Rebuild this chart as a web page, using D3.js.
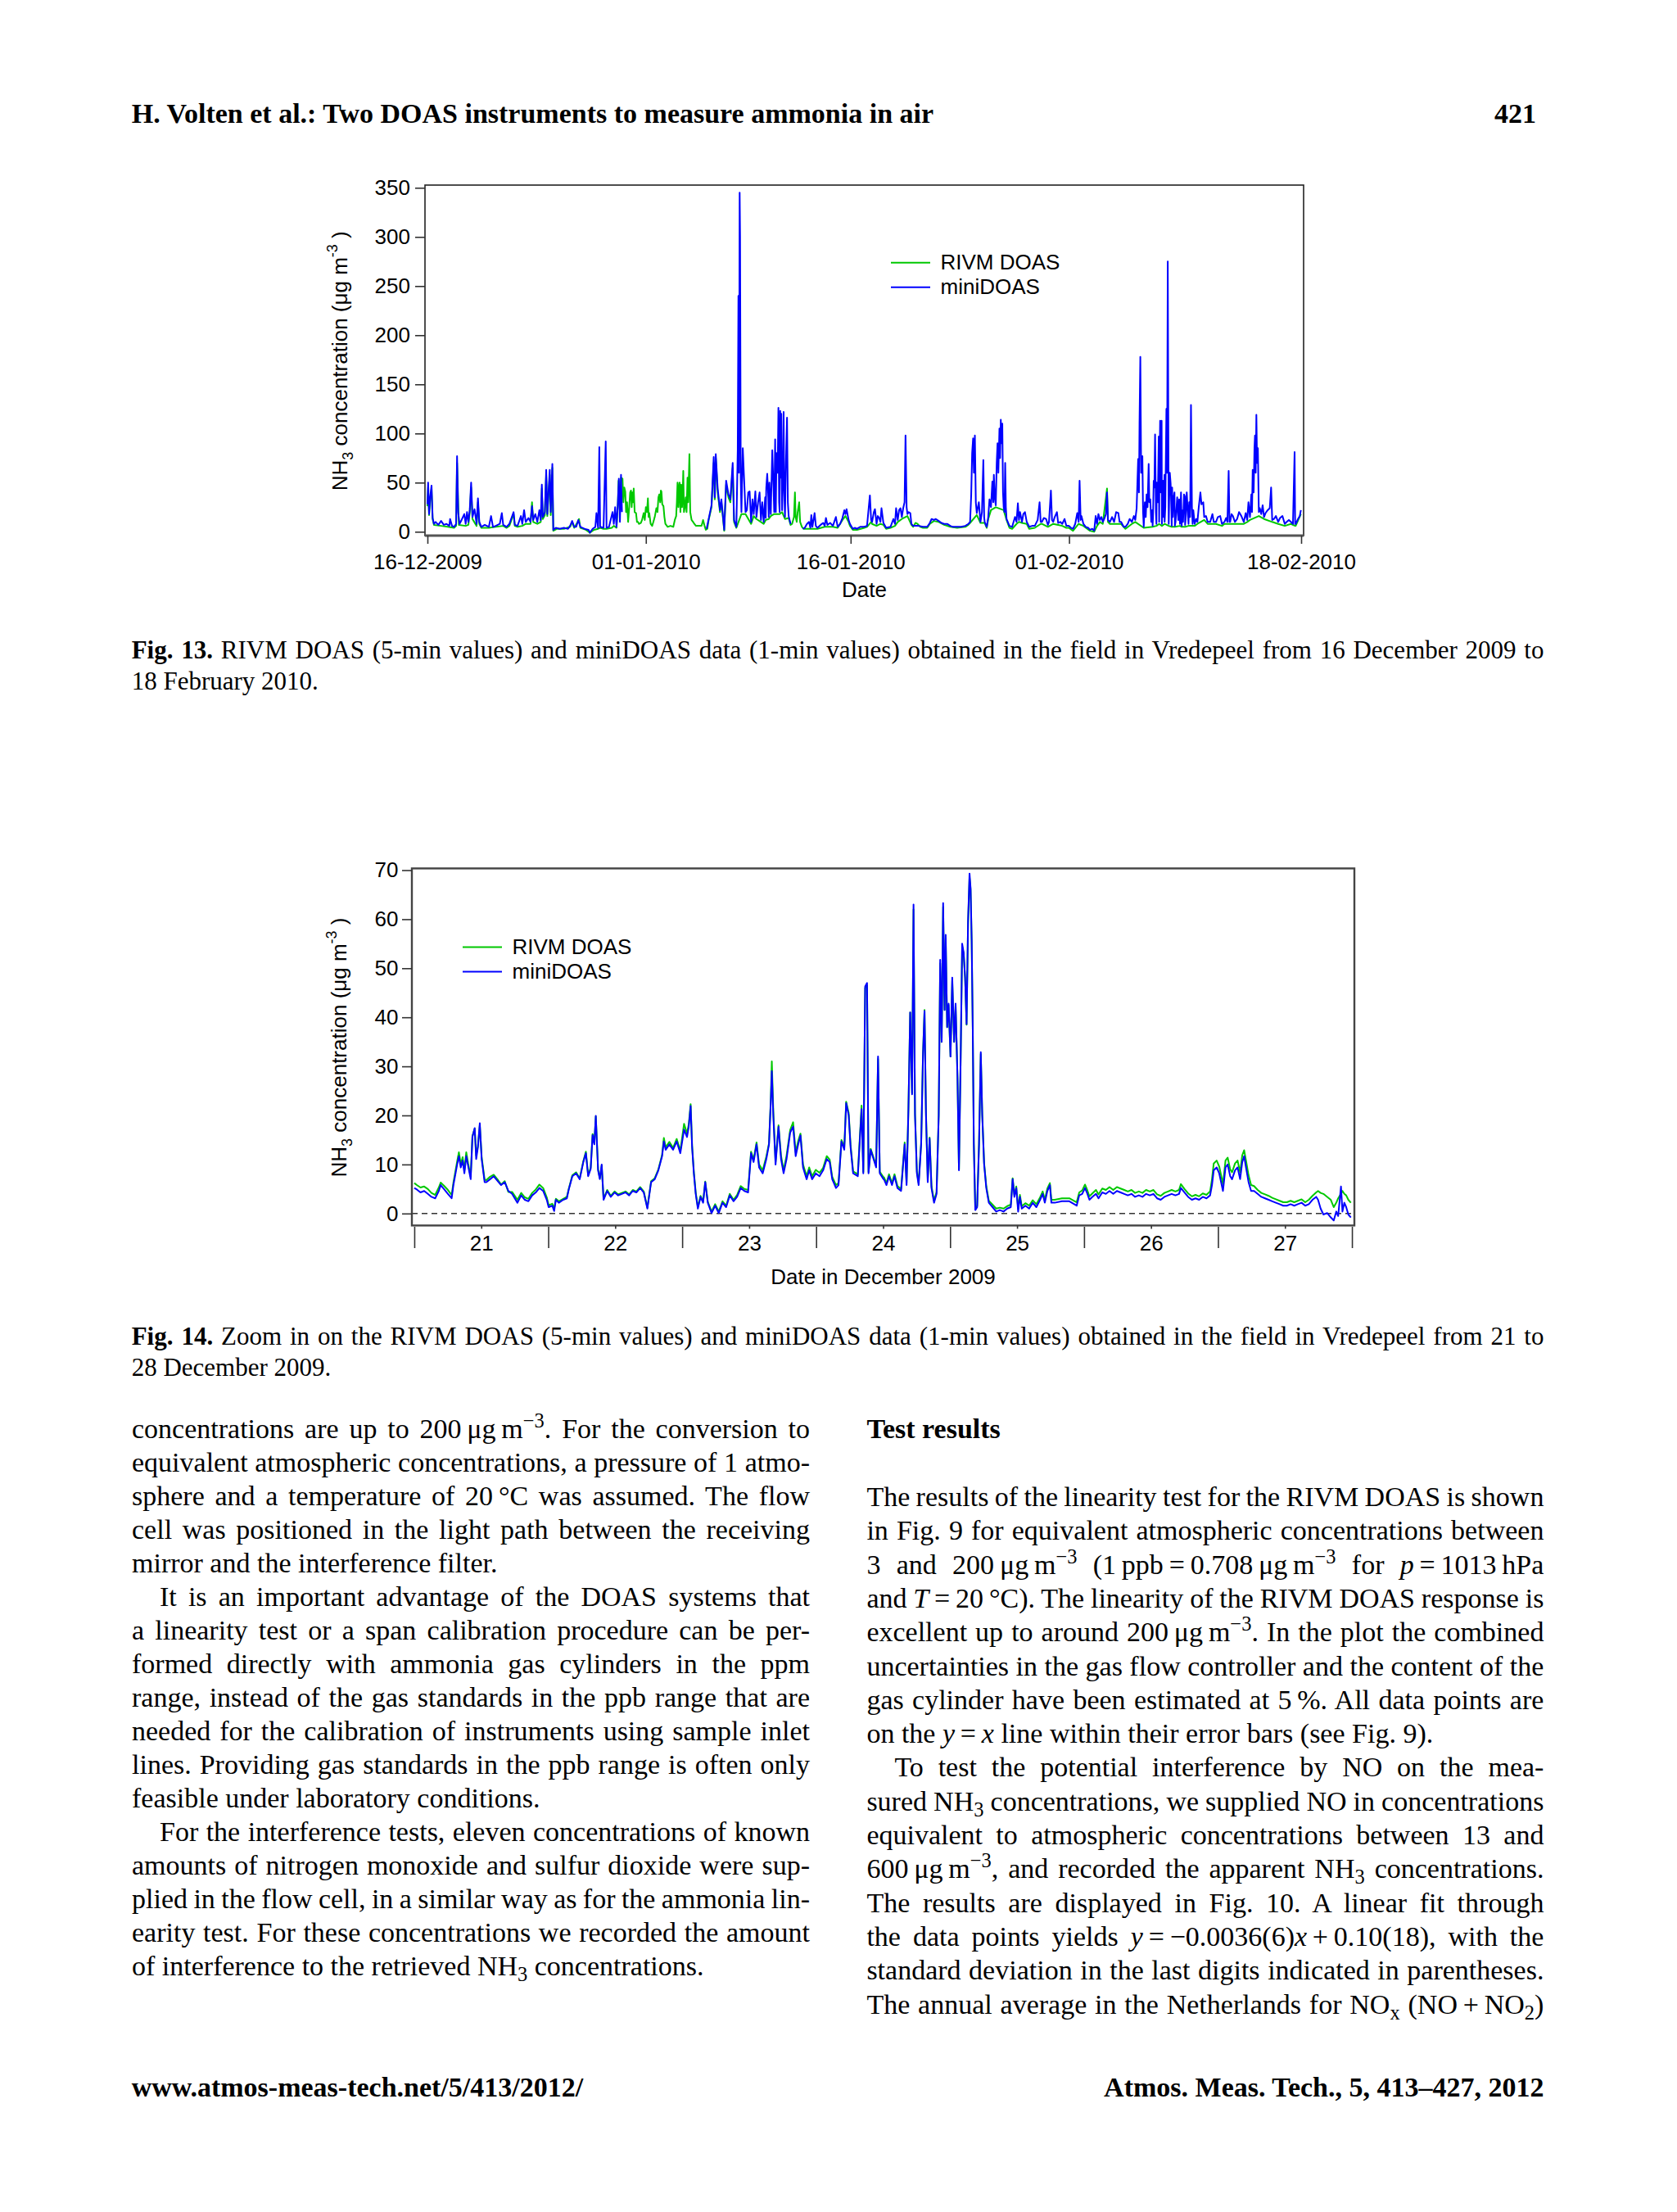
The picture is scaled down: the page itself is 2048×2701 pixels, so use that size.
<!DOCTYPE html>
<html><head><meta charset="utf-8">
<script src="https://cdn.jsdelivr.net/npm/d3@7"></script>
<style>
html,body{margin:0;padding:0;background:#fff;}
svg{display:block;}
text{white-space:pre;}
</style></head><body>
<svg id="page" width="2048" height="2701"></svg>
<script>
// ---------------- DATA ----------------
// Fig. 13: day offsets from 16-12-2009 00:00, concentrations (µg m-3); null = no data
const fig13Start = "2009-12-16";
const fig13TickDates = ["2009-12-16","2010-01-01","2010-01-16","2010-02-01","2010-02-18"];
const fig13YTicks = [0,50,100,150,200,250,300,350];
const fig13Mini = [
[0,28],[0.05,50],[0.12,18],[0.2,35],[0.3,47],[0.38,14],[0.48,8],[0.6,10],[0.8,7],[1.0,11],[1.2,7],[1.4,8],[1.6,6],[1.66,13],[1.8,6],[1.95,5],[2.1,8],[2.17,77],[2.25,20],[2.35,8],[2.5,12],[2.7,18],[2.8,8],[2.9,20],[3.0,10],[3.1,22],[3.2,50],[3.3,15],[3.45,23],[3.6,8],[3.7,34],[3.8,10],[3.95,5],[4.2,7],[4.5,5],[4.66,16],[4.8,5],[5.0,6],[5.3,8],[5.45,19],[5.55,7],[5.8,5],[6.0,8],[6.31,20],[6.4,7],[6.6,6],[6.85,16],[6.95,8],[7.08,22],[7.2,10],[7.4,14],[7.55,10],[7.66,26],[7.75,12],[7.9,18],[8.05,10],[8.2,22],[8.3,12],[8.38,48],[8.45,15],[8.6,20],[8.7,63],[8.78,18],[8.96,63],[9.03,20],[9.15,69],[9.22,2],[9.4,4],[9.7,3],[10.0,4],[10.3,3],[10.45,6],[10.6,11],[10.75,5],[10.9,5],[11.05,12],[11.2,5],[11.5,3],[11.8,2],[11.9,-1],[12.1,3],[12.3,5],[12.38,19],[12.5,4],[12.59,86],[12.65,5],[12.9,4],[13.06,92],[13.12,4],[13.3,5],[13.56,20],[13.65,8],[13.75,25],[13.85,5],[13.95,30],[14.02,54],[14.1,10],[14.18,58],[14.25,20],[14.3,null],
[20.45,3],[20.6,13],[20.81,27],[20.97,76],[21.05,35],[21.12,79],[21.26,44],[21.43,22],[21.53,33],[21.74,2],[21.88,52],[22.05,38],[22.19,33],[22.36,70],[22.46,12],[22.63,5],[22.73,84],[22.78,240],[22.82,60],[22.87,345],[22.9,300],[22.95,55],[23.0,20],[23.1,85],[23.19,55],[23.3,20],[23.4,22],[23.5,40],[23.6,41],[23.71,10],[23.81,33],[23.9,18],[24.02,41],[24.1,15],[24.22,30],[24.33,40],[24.43,12],[24.53,30],[24.63,10],[24.74,35],[24.78,14],[24.82,45],[24.89,59],[24.97,35],[25.0,15],[25.05,50],[25.15,18],[25.26,83],[25.35,45],[25.4,20],[25.47,94],[25.52,20],[25.57,80],[25.65,60],[25.71,126],[25.76,30],[25.8,20],[25.84,123],[25.88,55],[25.92,120],[25.98,22],[26.05,60],[26.09,122],[26.14,40],[26.19,15],[26.26,70],[26.34,116],[26.4,30],[26.46,16],[26.6,8],[26.65,null],
[27.5,3],[27.64,4],[27.8,8],[27.95,10],[28.05,4],[28.12,17],[28.2,5],[28.36,19],[28.45,6],[28.57,4],[28.8,7],[28.99,9],[29.1,6],[29.19,14],[29.3,7],[29.5,9],[29.7,6],[29.92,15],[30.05,5],[30.23,8],[30.4,14],[30.54,22],[30.62,18],[30.7,23],[30.85,12],[30.95,8],[31.16,3],[31.3,4],[31.47,3],[31.7,5],[31.99,5],[32.2,6],[32.41,37],[32.5,12],[32.57,10],[32.7,20],[32.78,23],[32.9,8],[32.99,16],[33.09,14],[33.18,10],[33.26,24],[33.4,9],[33.6,4],[33.92,5],[34.13,13],[34.25,8],[34.33,24],[34.45,12],[34.55,22],[34.65,24],[34.75,15],[34.85,24],[34.95,30],[35.02,98],[35.1,25],[35.16,18],[35.25,20],[35.37,19],[35.45,8],[35.58,6],[35.8,6],[35.99,6],[36.3,5],[36.61,5],[36.8,9],[36.93,13],[37.1,12],[37.24,13],[37.45,11],[37.65,9],[37.85,8],[38.07,8],[38.3,6],[38.48,5],[38.8,5],[39.1,5],[39.4,6],[39.62,8],[39.75,10],[39.83,37],[39.9,80],[39.97,95],[40.03,60],[40.1,98],[40.17,30],[40.24,19],[40.39,30],[40.51,10],[40.62,20],[40.72,73],[40.78,15],[40.82,10],[40.97,5],[41.08,15],[41.17,33],[41.28,25],[41.38,51],[41.45,30],[41.49,58],[41.56,35],[41.63,27],[41.7,70],[41.76,90],[41.82,60],[41.9,105],[41.95,75],[42.0,114],[42.05,90],[42.11,110],[42.16,40],[42.21,25],[42.27,20],[42.32,70],[42.37,25],[42.42,13],[42.63,6],[42.83,5],[43.04,15],[43.15,10],[43.25,29],[43.33,12],[43.41,20],[43.55,10],[43.65,18],[43.77,20],[43.9,10],[44.08,5],[44.3,6],[44.49,6],[44.7,12],[44.84,30],[44.92,10],[45.01,10],[45.15,14],[45.32,13],[45.45,7],[45.53,10],[45.67,42],[45.75,12],[45.84,10],[45.95,15],[46.11,20],[46.2,9],[46.36,10],[46.5,8],[46.67,13],[46.8,6],[46.98,6],[47.15,4],[47.29,3],[47.45,8],[47.6,19],[47.7,10],[47.77,52],[47.85,12],[47.91,16],[48.05,8],[48.22,5],[48.4,4],[48.53,2],[48.7,3],[48.84,1],[48.95,16],[49.05,8],[49.15,18],[49.26,12],[49.37,15],[49.47,10],[49.6,14],[49.7,18],[49.78,40],[49.85,12],[49.99,10],[50.15,15],[50.3,10],[50.45,20],[50.61,19],[50.7,10],[50.81,10],[51.0,5],[51.13,5],[51.3,8],[51.44,13],[51.6,10],[51.75,16],[51.85,12],[51.95,24],[52.06,74],[52.12,40],[52.16,110],[52.22,178],[52.28,60],[52.37,77],[52.42,20],[52.47,5],[52.55,30],[52.62,15],[52.68,38],[52.75,25],[52.83,69],[52.88,30],[52.95,33],[53.02,10],[53.09,22],[53.12,6],[53.15,15],[53.2,52],[53.25,45],[53.3,99],[53.36,20],[53.4,8],[53.42,50],[53.45,38],[53.5,30],[53.57,97],[53.6,10],[53.62,60],[53.67,113],[53.72,40],[53.78,113],[53.8,8],[53.83,20],[53.88,52],[53.93,15],[53.99,58],[54.0,10],[54.05,25],[54.13,125],[54.18,60],[54.23,275],[54.28,70],[54.3,8],[54.33,30],[54.38,60],[54.44,49],[54.5,20],[54.52,6],[54.55,45],[54.6,15],[54.65,33],[54.72,40],[54.75,6],[54.8,10],[54.86,22],[54.92,35],[55.0,12],[55.06,33],[55.12,8],[55.2,40],[55.25,6],[55.27,22],[55.35,10],[55.42,38],[55.48,36],[55.5,7],[55.55,15],[55.62,40],[55.69,22],[55.75,8],[55.8,30],[55.87,15],[55.93,129],[56.0,25],[56.05,8],[56.1,22],[56.2,8],[56.31,13],[56.4,10],[56.5,25],[56.62,40],[56.7,28],[56.83,30],[56.9,15],[57.03,16],[57.15,10],[57.34,10],[57.5,18],[57.6,10],[57.76,10],[57.9,15],[58.07,16],[58.2,8],[58.38,10],[58.5,14],[58.6,10],[58.69,62],[58.75,10],[58.8,10],[58.9,18],[59.0,16],[59.15,10],[59.31,13],[59.45,20],[59.62,16],[59.8,10],[59.94,19],[60.05,12],[60.14,30],[60.25,15],[60.35,38],[60.4,20],[60.45,63],[60.52,40],[60.58,85],[60.62,98],[60.67,60],[60.72,119],[60.77,70],[60.83,85],[60.9,20],[60.97,24],[61.08,18],[61.18,27],[61.28,15],[61.39,19],[61.55,22],[61.7,24],[61.8,45],[61.88,12],[62.01,13],[62.15,16],[62.32,10],[62.45,14],[62.63,16],[62.8,8],[62.94,10],[63.1,12],[63.25,10],[63.4,8],[63.52,81],[63.56,8],[63.6,8],[63.77,13],[63.9,16],[63.98,22]
];
const fig13Rivm = [
[0,26],[0.05,45],[0.12,17],[0.2,33],[0.3,44],[0.38,13],[0.48,7],[1.0,6],[1.5,5],[1.95,4],[2.1,6],[2.17,70],[2.3,7],[2.8,6],[3.0,7],[3.1,20],[3.2,45],[3.3,13],[3.6,6],[3.7,30],[3.8,8],[3.95,4],[4.5,4],[5.0,5],[5.55,6],[5.8,4],[6.0,6],[6.31,18],[6.4,6],[6.6,5],[6.95,6],[7.2,8],[7.55,8],[7.66,30],[7.75,10],[8.05,8],[8.3,10],[8.38,44],[8.45,13],[8.6,17],[8.7,58],[8.78,16],[8.96,58],[9.03,17],[9.15,65],[9.22,1],[9.5,3],[10.0,3],[10.45,5],[10.6,10],[10.75,4],[11.05,11],[11.1,13],[11.2,4],[11.6,2],[11.9,-1],[12.2,2],[12.5,3],[12.65,4],[12.9,3],[13.12,3],[13.5,4],[13.65,6],[13.85,4],[13.95,28],[14.0,52],
[14.1,20],[14.18,55],[14.29,54],[14.35,30],[14.42,45],[14.49,41],[14.55,20],[14.62,30],[14.7,10],[14.78,25],[14.85,40],[14.91,42],[14.96,25],[15.01,40],[15.06,30],[15.11,44],[15.18,20],[15.28,19],[15.35,10],[15.42,10],[15.5,8],[15.63,9],[15.72,12],[15.84,19],[15.92,12],[16.0,25],[16.08,20],[16.15,34],[16.2,15],[16.25,19],[16.35,8],[16.46,6],[16.55,10],[16.65,15],[16.77,24],[16.85,20],[16.92,35],[16.98,38],[17.05,30],[17.1,42],[17.14,41],[17.2,28],[17.29,26],[17.36,15],[17.43,8],[17.6,5],[17.8,6],[18.01,5],[18.12,12],[18.22,16],[18.27,30],[18.32,50],[18.38,25],[18.42,45],[18.47,50],[18.53,20],[18.59,48],[18.65,25],[18.7,40],[18.74,62],[18.79,20],[18.84,24],[18.92,35],[18.98,20],[19.05,55],[19.1,30],[19.19,79],[19.25,20],[19.35,12],[19.46,10],[19.55,8],[19.67,6],[19.85,6],[20.08,6],[20.19,12],[20.3,6],[20.39,2],
[20.5,3],[20.6,12],[20.81,25],[20.97,70],[21.05,33],[21.12,75],[21.26,40],[21.43,20],[21.53,30],[21.74,1],[21.88,48],[22.05,35],[22.19,30],[22.36,65],[22.46,10],[22.63,4],[23.0,18],[23.3,18],[23.71,8],[23.9,16],[24.1,13],[24.43,10],[24.63,8],[24.78,12],[25.0,13],[25.15,16],[25.4,18],[25.52,18],[25.8,18],[25.98,20],[26.19,13],[26.46,14],[26.6,7],[26.71,8],[26.85,15],[26.92,40],[26.97,15],[27.05,10],[27.12,20],[27.23,30],[27.3,10],[27.43,5],[27.55,3],[27.64,3],
[28.05,3],[28.57,3],[29.1,5],[29.7,5],[30.05,4],[30.4,12],[30.62,16],[30.85,10],[30.95,6],[31.16,2],[31.47,2],[32.0,4],[32.2,5],[32.5,10],[32.57,8],[32.9,6],[33.18,8],[33.4,7],[33.6,3],[33.92,4],[34.25,6],[34.45,10],[34.75,13],[35.16,16],[35.45,7],[35.58,5],[35.75,9],[35.9,8],[36.1,5],[36.3,4],[36.61,4],[36.8,8],[37.1,11],[37.45,10],[37.85,7],[38.3,5],[38.8,4],[39.4,5],[39.62,7],[39.75,9],[40.24,17],[40.51,9],[40.82,9],[40.97,4],[41.08,13],[41.28,22],[41.63,25],[42.21,22],[42.42,12],[42.63,4],[42.83,3],[43.15,8],[43.33,10],[43.55,9],[43.9,8],[44.08,3],[44.49,4],[44.92,8],[45.01,8],[45.45,5],[45.84,8],[46.2,7],[46.5,6],[46.8,4],[46.98,4],[47.29,1],[47.7,8],[48.05,6],[48.53,1],[48.84,0],[49.05,6],[49.26,10],[49.47,8],[49.78,44],[49.85,10],[49.99,8],[50.3,8],[50.7,8],[50.81,8],[51.13,3],[51.6,8],[51.85,10],[52.47,4],[53.12,5],[53.4,6],[53.6,8],[53.8,6],[54.0,8],[54.3,6],[54.52,5],[54.75,5],[55.12,6],[55.25,5],[55.5,5],[55.75,6],[56.05,6],[56.2,6],[56.4,8],[56.9,12],[57.15,8],[57.34,8],[57.6,8],[57.76,8],[58.2,6],[58.38,8],[58.6,8],[58.8,8],[59.15,8],[59.8,8],[60.05,10],[60.25,12],[60.9,16],[61.28,13],[61.88,10],[62.32,8],[62.8,6],[63.25,8],[63.56,6],[63.6,6],[63.98,18]
];

// Fig. 14: day offsets from 21-12-2009 00:00
const fig14Start = "2009-12-21";
const fig14DayLabels = ["21","22","23","24","25","26","27"];
const fig14YTicks = [0,10,20,30,40,50,60,70];
const fig14Days = [
0.000,0.019,0.046,0.074,0.101,0.128,0.156,0.183,0.197,0.224,0.251,0.279,0.292,0.320,0.333,0.347,0.361,0.374,0.388,0.402,
0.421,0.434,0.451,0.462,0.475,0.489,0.503,0.525,0.538,0.566,0.593,0.620,0.648,0.675,0.702,0.730,0.770,0.798,0.825,0.852,
0.880,0.907,0.934,0.962,0.989,1.003,1.030,1.044,1.057,1.079,1.112,1.139,1.153,1.180,1.208,1.235,1.262,1.281,1.298,1.317,
1.331,1.344,1.355,1.372,1.385,1.399,1.413,1.440,1.467,1.495,1.522,1.549,1.577,1.604,1.631,1.658,1.686,1.713,1.740,1.768,
1.795,1.822,1.850,1.863,1.877,1.904,1.932,1.959,1.986,2.014,2.036,2.049,2.063,2.074,2.087,2.101,2.117,2.137,2.156,2.172,
2.191,2.219,2.246,2.273,2.301,2.328,2.355,2.383,2.410,2.437,2.464,2.492,2.514,2.533,2.555,2.574,2.601,2.628,2.648,2.661,
2.669,2.680,2.697,2.719,2.738,2.757,2.779,2.806,2.828,2.847,2.866,2.883,2.902,2.929,2.948,2.970,2.997,3.025,3.052,3.079,
3.101,3.120,3.148,3.167,3.189,3.210,3.224,3.243,3.257,3.276,3.311,3.339,3.352,3.366,3.380,3.391,3.407,3.448,3.462,3.475,
3.503,
3.506,3.525,3.544,3.566,3.585,3.607,3.634,3.661,3.675,3.689,3.702,3.716,3.727,3.738,3.752,3.765,3.784,3.798,3.809,3.820,
3.833,3.847,3.861,3.880,3.899,3.915,3.926,3.937,3.948,3.959,3.967,3.978,3.989,4.003,4.016,4.030,4.041,4.055,4.066,4.079,
4.090,4.101,4.112,4.123,4.134,4.145,4.153,4.161,4.169,4.177,4.188,4.202,4.216,4.229,4.240,4.254,4.270,4.289,4.317,4.344,
4.371,4.399,4.426,4.453,4.467,4.480,4.494,4.508,4.521,4.535,4.562,4.590,4.617,4.644,4.672,4.691,4.707,4.726,4.745,4.756,
4.781,4.835,4.890,4.945,4.964,4.986,5.007,5.021,5.040,5.062,5.089,5.108,5.136,5.163,5.190,5.218,5.245,5.272,5.300,5.327,
5.354,5.381,5.409,5.436,5.463,5.491,5.518,5.545,5.572,5.600,5.627,5.654,5.682,5.709,5.723,5.750,5.777,5.805,5.832,5.859,
5.886,5.914,5.941,5.955,5.968,5.990,6.009,6.037,6.056,6.072,6.091,6.105,6.127,6.146,6.165,6.181,6.195,6.209,6.228,6.247,
6.269,6.296,6.323,6.351,6.378,6.405,6.432,6.460,6.487,6.514,6.542,6.569,6.596,6.624,6.651,6.678,6.705,6.733,6.747,6.766,
6.787,6.815,6.842,6.864,6.883,6.897,6.918,6.929,6.943,6.957,6.973,6.992
];
const fig14Mini = [
5.2,4.9,4.3,4.6,4.0,3.4,3.1,4.6,5.8,4.9,4.0,3.1,5.8,10.0,11.7,9.4,10.8,8.2,11.7,9.7,
7.0,15.6,17.4,11.1,13.5,18.4,11.1,6.4,6.4,7.0,7.6,6.7,5.8,6.4,4.6,4.0,2.2,3.7,2.8,2.5,
3.7,4.3,5.2,4.6,2.8,1.3,1.6,0.5,2.8,2.2,2.8,3.1,4.9,7.6,8.2,7.0,10.5,12.3,7.6,9.1,
16.0,14.1,19.9,8.8,7.0,10.0,2.8,4.6,3.4,4.3,3.7,4.0,4.3,3.7,4.6,4.3,5.2,4.3,1.0,6.4,
7.0,8.8,11.7,14.7,13.0,14.1,13.0,14.7,12.3,17.1,15.6,17.7,21.9,13.5,8.2,4.0,1.0,3.4,2.2,6.4,
2.2,0.1,1.6,0.1,2.2,1.3,3.7,2.5,3.4,5.2,4.6,4.3,12.3,10.5,14.1,9.4,8.2,11.1,14.1,22.5,
29.0,20.0,10.0,17.7,11.1,8.2,11.1,16.5,17.7,11.7,14.1,15.9,9.4,7.0,8.8,7.0,8.2,7.6,8.8,11.1,
10.5,7.0,5.2,5.8,14.7,13.0,22.5,20.0,13.5,8.2,7.6,21.3,8.2,46.3,47.0,8.2,13.0,9.4,32.0,8.2,
7.0,
7.0,5.8,7.6,5.8,7.6,5.2,4.6,14.1,5.8,21.3,41.0,24.3,63.0,20.0,8.2,5.8,14.1,32.6,41.3,20.0,
6.4,15.3,5.2,2.2,4.0,20.0,51.7,35.0,63.3,41.5,56.8,38.0,42.8,32.0,48.1,35.0,42.8,27.8,8.8,32.0,
55.0,53.2,48.1,38.6,59.5,69.3,66.3,55.9,38.0,14.1,0.7,1.3,14.1,32.9,20.0,10.0,5.2,2.2,1.3,0.4,
0.7,0.4,1.0,1.3,7.0,3.4,5.2,0.4,3.4,1.0,1.6,1.0,2.2,1.3,2.8,4.0,2.2,4.6,5.8,2.2,
2.2,2.5,2.5,1.6,3.7,4.0,5.2,4.3,2.8,3.4,4.0,3.1,4.3,4.0,4.6,4.0,4.6,4.3,4.0,3.7,
4.0,3.4,3.7,3.4,4.0,3.7,4.0,3.1,2.8,3.4,3.7,4.0,3.7,4.0,5.2,4.3,3.4,2.8,3.1,2.8,
3.4,3.1,3.7,5.8,8.8,9.4,8.2,4.6,9.4,10.0,7.6,7.0,8.8,9.4,7.0,10.5,11.7,9.4,6.4,4.6,
4.6,4.0,3.4,3.1,2.8,2.5,2.2,1.9,1.6,1.6,1.9,1.6,1.9,2.2,1.6,1.9,2.8,3.4,2.8,1.0,
-0.2,0.1,-0.8,-1.4,0.4,-0.5,5.5,0.4,2.2,1.3,-0.2,-0.8
];
const fig14Rivm = [
6.2,5.8,5.3,5.5,5.0,4.2,3.8,5.3,6.3,5.6,4.8,3.8,6.3,10.6,12.5,10.0,11.5,8.8,12.5,10.2,
7.5,15.8,17.3,11.8,13.8,18.0,11.5,6.9,6.8,7.5,7.9,7.0,5.9,6.6,4.4,4.4,2.8,4.2,3.3,3.0,
4.2,4.9,5.9,5.2,3.3,1.7,2.0,1.0,3.0,2.5,3.0,3.4,5.0,7.8,8.4,7.2,10.7,12.6,7.8,9.4,
16.2,14.3,19.8,9.0,7.2,9.8,3.0,4.8,3.6,4.5,3.9,4.2,4.5,3.9,4.8,4.5,5.4,4.5,1.2,6.6,
7.2,9.0,12.0,15.4,13.5,14.6,13.4,15.2,12.8,18.3,16.3,18.2,22.3,13.8,8.5,4.3,1.3,3.6,2.4,6.5,
2.4,0.4,1.9,0.4,2.5,1.6,4.0,2.8,3.8,5.6,5.0,4.8,12.6,11.0,14.5,10.0,8.8,11.6,14.3,23.0,
31.0,21.0,10.5,18.0,11.8,8.8,11.8,17.0,18.6,12.5,14.8,16.3,10.0,7.6,9.4,7.6,8.9,8.3,9.3,11.7,
11.0,7.5,5.8,6.2,15.0,13.5,22.8,20.5,14.0,8.6,8.0,22.0,8.5,46.0,46.5,8.5,13.2,9.8,31.5,8.5,
7.4,
7.4,6.2,8.0,6.2,8.0,5.6,5.0,14.5,6.2,21.5,41.0,24.5,62.0,20.5,8.6,6.2,14.5,33.0,41.5,20.5,
6.8,15.5,5.6,2.6,4.4,20.0,51.0,35.0,62.5,41.5,56.0,38.0,42.5,32.0,47.5,35.0,42.5,28.0,9.0,32.0,
54.5,53.0,48.0,38.5,59.0,68.5,66.0,55.5,38.0,14.5,1.0,1.6,14.3,32.5,20.2,10.3,5.6,2.6,1.8,1.0,
1.2,1.0,1.5,1.8,7.2,3.8,5.5,1.0,3.8,1.5,2.1,1.6,2.7,1.9,3.3,4.5,2.8,5.1,6.2,2.8,
2.8,3.1,3.1,2.3,4.3,4.7,5.9,5.0,3.5,4.1,4.8,3.9,5.1,4.8,5.4,4.8,5.4,5.1,4.8,4.5,
4.8,4.2,4.5,4.2,4.8,4.5,4.8,3.9,3.6,4.2,4.5,4.8,4.5,4.8,6.0,5.0,4.1,3.5,3.8,3.5,
4.1,3.8,4.5,7.0,10.2,10.8,9.6,6.0,10.8,11.4,9.0,8.4,10.2,10.8,8.4,11.9,12.9,10.8,7.8,5.8,
5.6,4.8,4.2,3.9,3.6,3.2,2.9,2.6,2.3,2.3,2.6,2.3,2.6,2.9,2.3,2.8,3.6,4.3,4.6,4.2,
4.0,3.4,2.8,1.3,2.2,3.1,4.0,4.6,4.0,3.7,2.8,2.2
];
const seriesNames = ["RIVM DOAS","miniDOAS"];

// ---------------- PAGE TEXT ----------------
const headerTitle = "H. Volten et al.: Two DOAS instruments to measure ammonia in air";
const headerPage = "421";
const footerLeft = "www.atmos-meas-tech.net/5/413/2012/";
const footerRight = "Atmos. Meas. Tech., 5, 413–427, 2012";
const T = "\u2009";
const caption13 = [
 {t:"<b>Fig. 13.</b> RIVM DOAS (5-min values) and miniDOAS data (1-min values) obtained in the field in Vredepeel from 16 December 2009 to", j:true},
 {t:"18 February 2010.", j:false}];
const caption14 = [
 {t:"<b>Fig. 14.</b> Zoom in on the RIVM DOAS (5-min values) and miniDOAS data (1-min values) obtained in the field in Vredepeel from 21 to", j:true},
 {t:"28 December 2009.", j:false}];
const leftCol = [
 {t:"concentrations are up to 200"+T+"μg"+T+"m<sup>−3</sup>. For the conversion to", j:true},
 {t:"equivalent atmospheric concentrations, a pressure of 1 atmo-", j:true},
 {t:"sphere and a temperature of 20"+T+"°C was assumed. The flow", j:true},
 {t:"cell was positioned in the light path between the receiving", j:true},
 {t:"mirror and the interference filter.", j:false},
 {t:"It is an important advantage of the DOAS systems that", j:true, ind:true},
 {t:"a linearity test or a span calibration procedure can be per-", j:true},
 {t:"formed directly with ammonia gas cylinders in the ppm", j:true},
 {t:"range, instead of the gas standards in the ppb range that are", j:true},
 {t:"needed for the calibration of instruments using sample inlet", j:true},
 {t:"lines. Providing gas standards in the ppb range is often only", j:true},
 {t:"feasible under laboratory conditions.", j:false},
 {t:"For the interference tests, eleven concentrations of known", j:true, ind:true},
 {t:"amounts of nitrogen monoxide and sulfur dioxide were sup-", j:true},
 {t:"plied in the flow cell, in a similar way as for the ammonia lin-", j:true},
 {t:"earity test. For these concentrations we recorded the amount", j:true},
 {t:"of interference to the retrieved NH<sub>3</sub> concentrations.", j:false}];
const rightHeading = "Test results";
const rightCol = [
 {t:"The results of the linearity test for the RIVM DOAS is shown", j:true},
 {t:"in Fig. 9 for equivalent atmospheric concentrations between", j:true},
 {t:"3 and 200"+T+"μg"+T+"m<sup>−3</sup> (1"+T+"ppb"+T+"="+T+"0.708"+T+"μg"+T+"m<sup>−3</sup> for <i>p</i>"+T+"="+T+"1013"+T+"hPa", j:true},
 {t:"and <i>T</i>"+T+"="+T+"20"+T+"°C). The linearity of the RIVM DOAS response is", j:true},
 {t:"excellent up to around 200"+T+"μg"+T+"m<sup>−3</sup>. In the plot the combined", j:true},
 {t:"uncertainties in the gas flow controller and the content of the", j:true},
 {t:"gas cylinder have been estimated at 5"+T+"%. All data points are", j:true},
 {t:"on the <i>y</i>"+T+"="+T+"<i>x</i> line within their error bars (see Fig. 9).", j:false},
 {t:"To test the potential interference by NO on the mea-", j:true, ind:true},
 {t:"sured NH<sub>3</sub> concentrations, we supplied NO in concentrations", j:true},
 {t:"equivalent to atmospheric concentrations between 13 and", j:true},
 {t:"600"+T+"μg"+T+"m<sup>−3</sup>, and recorded the apparent NH<sub>3</sub> concentrations.", j:true},
 {t:"The results are displayed in Fig. 10. A linear fit through", j:true},
 {t:"the data points yields <i>y</i>"+T+"="+T+"−0.0036(6)<i>x</i>"+T+"+"+T+"0.10(18), with the", j:true},
 {t:"standard deviation in the last digits indicated in parentheses.", j:true},
 {t:"The annual average in the Netherlands for NO<sub>x</sub> (NO"+T+"+"+T+"NO<sub>2</sub>)", j:true}];

// ---------------- DRAWING ----------------
const svg = d3.select('#page');
const SANS = 'Liberation Sans, Arial, Helvetica, sans-serif';
const SERIF = 'Liberation Serif, Times New Roman, Times, serif';
const BLUE = '#0000ff', GREEN = '#00c800';
const parseDay = d3.timeParse('%Y-%m-%d');
const toDate = (base, d) => new Date(base.getTime() + d * 86400000);

function addRich(sel, markup, fs) {
  const parts = markup.split(/(<\/?(?:sup|sub|i|b)>)/);
  const st = {sup:0, sub:0, i:0, b:0};
  parts.forEach(p => {
    const m = p.match(/^<(\/?)(sup|sub|i|b)>$/);
    if (m) { st[m[2]] += m[1] ? -1 : 1; return; }
    if (!p) return;
    const t = sel.append('tspan').text(p);
    if (st.i) t.attr('font-style', 'italic');
    if (st.b) t.attr('font-weight', 'bold');
    if (st.sup) t.attr('font-size', fs * 0.72).attr('baseline-shift', fs * 0.38);
    if (st.sub) t.attr('font-size', fs * 0.72).attr('baseline-shift', -fs * 0.2);
  });
}
function textLine(x, y, w, item, fs, indent) {
  const x0 = x + (item.ind ? indent : 0);
  const width = w - (item.ind ? indent : 0);
  const t = svg.append('text').attr('x', x0).attr('y', y)
    .attr('font-family', SERIF).attr('font-size', fs).attr('fill', '#000');
  addRich(t, item.t, fs);
  if (item.j) {
    const len = t.node().getComputedTextLength();
    const n = (t.text().match(/ /g) || []).length;
    if (n) t.style('word-spacing', ((width - len) / n) + 'px');
  }
  return t;
}

// header / footer
svg.append('text').attr('x', 160.7).attr('y', 150).attr('font-family', SERIF).attr('font-weight', 'bold')
  .attr('font-size', 34).text(headerTitle);
svg.append('text').attr('x', 1876).attr('y', 150).attr('text-anchor', 'end').attr('font-family', SERIF)
  .attr('font-weight', 'bold').attr('font-size', 34).text(headerPage);
svg.append('text').attr('x', 160.7).attr('y', 2560).attr('font-family', SERIF).attr('font-weight', 'bold')
  .attr('font-size', 34).text(footerLeft);
svg.append('text').attr('x', 1885.5).attr('y', 2560).attr('text-anchor', 'end').attr('font-family', SERIF)
  .attr('font-weight', 'bold').attr('font-size', 34).text(footerRight);

// captions
caption13.forEach((c, i) => textLine(160.7, 804 + i * 38, 1724.8, c, 31, 0));
caption14.forEach((c, i) => textLine(160.7, 1642 + i * 38, 1724.8, c, 31, 0));

// body columns
leftCol.forEach((c, i) => textLine(161, 1756 + i * 41.0, 828, c, 34, 34));
svg.append('text').attr('x', 1058.4).attr('y', 1756).attr('font-family', SERIF).attr('font-weight', 'bold')
  .attr('font-size', 34).text(rightHeading);
rightCol.forEach((c, i) => textLine(1058.4, 1839 + i * 41.3, 827, c, 34, 34));

// y-axis title helper
function yTitle(cx, cy) {
  const t = svg.append('text').attr('transform', `translate(${cx},${cy}) rotate(-90)`)
    .attr('text-anchor', 'middle').attr('font-family', SANS).attr('font-size', 26).attr('fill', '#000');
  t.append('tspan').text('NH');
  t.append('tspan').text('3').attr('font-size', 18).attr('baseline-shift', -7);
  t.append('tspan').text(' concentration (μg m');
  t.append('tspan').text('-3').attr('font-size', 18).attr('baseline-shift', 12);
  t.append('tspan').text(' )');
}
function legend(x0, y0, fs) {
  [[GREEN, seriesNames[0]], [BLUE, seriesNames[1]]].forEach(([c, name], i) => {
    const yy = y0 + i * 30;
    svg.append('line').attr('x1', x0).attr('x2', x0 + 48).attr('y1', yy).attr('y2', yy)
      .attr('stroke', c).attr('stroke-width', 2);
    svg.append('text').attr('x', x0 + 60.5).attr('y', yy + 8.6).attr('font-family', SANS)
      .attr('font-size', fs).attr('fill', '#000').text(name);
  });
}
function styleAxis(g, fs) {
  g.attr('font-family', SANS).attr('font-size', fs);
  g.select('.domain').remove();
  g.selectAll('.tick line').attr('stroke', '#333').attr('stroke-width', 1.6);
  g.selectAll('.tick text').attr('fill', '#000');
}

const defs = svg.append('defs');

// ======== FIG 13 ========
(function () {
  const P = {l: 519, r: 1592, t: 226, b: 654};
  const base = parseDay(fig13Start);
  const x = d3.scaleTime().domain([toDate(base, -0.18), toDate(base, 64.18)]).range([P.l, P.r]);
  const y = d3.scaleLinear().domain([-3.9, 352.75]).range([P.b, P.t]);
  defs.append('clipPath').attr('id', 'clip13').append('rect')
    .attr('x', P.l).attr('y', P.t).attr('width', P.r - P.l).attr('height', P.b - P.t);
  const line = d3.line().defined(d => d[1] !== null)
    .x(d => x(toDate(base, d[0]))).y(d => y(d[1]));
  const g = svg.append('g').attr('clip-path', 'url(#clip13)');
  g.append('path').datum(fig13Rivm).attr('d', line).attr('fill', 'none')
    .attr('stroke', GREEN).attr('stroke-width', 2).attr('stroke-linejoin', 'round');
  g.append('path').datum(fig13Mini).attr('d', line).attr('fill', 'none')
    .attr('stroke', BLUE).attr('stroke-width', 2).attr('stroke-linejoin', 'round');

  svg.append('rect').attr('x', P.l).attr('y', P.t).attr('width', P.r - P.l).attr('height', P.b - P.t)
    .attr('fill', 'none').attr('stroke', '#222').attr('stroke-width', 1.6);
  svg.append('line').attr('x1', P.l).attr('x2', P.r).attr('y1', P.b).attr('y2', P.b)
    .attr('stroke', '#555').attr('stroke-width', 3);

  svg.append('g').attr('transform', `translate(${P.l},0)`)
    .call(d3.axisLeft(y).tickValues(fig13YTicks).tickSize(12).tickPadding(6))
    .call(g => styleAxis(g, 26));
  svg.append('g').attr('transform', `translate(0,${P.b})`)
    .call(d3.axisBottom(x).tickValues(fig13TickDates.map(parseDay)).tickSize(10).tickPadding(13)
      .tickFormat(d3.timeFormat('%d-%m-%Y')))
    .call(g => styleAxis(g, 26));
  svg.append('text').attr('x', (P.l + P.r) / 2).attr('y', 729).attr('text-anchor', 'middle')
    .attr('font-family', SANS).attr('font-size', 26).text('Date');
  yTitle(423.7, 440.8);
  legend(1088, 320.7, 26);
})();

// ======== FIG 14 ========
(function () {
  const P = {l: 503, r: 1654, t: 1060.4, b: 1496.4};
  const base = parseDay(fig14Start);
  const x = d3.scaleTime().domain([toDate(base, -0.018), toDate(base, 7.018)]).range([P.l, P.r]);
  const y = d3.scaleLinear().domain([-2.44, 70.35]).range([P.b, P.t]);
  defs.append('clipPath').attr('id', 'clip14').append('rect')
    .attr('x', P.l).attr('y', P.t).attr('width', P.r - P.l).attr('height', P.b - P.t);

  svg.append('line').attr('x1', P.l).attr('x2', P.r).attr('y1', y(0)).attr('y2', y(0))
    .attr('stroke', '#333').attr('stroke-width', 1.6).attr('stroke-dasharray', '7,5');

  const mini = fig14Days.map((d, i) => [d, fig14Mini[i]]);
  const rivm = fig14Days.map((d, i) => [d, fig14Rivm[i]]);
  const line = d3.line().x(d => x(toDate(base, d[0]))).y(d => y(d[1]));
  const g = svg.append('g').attr('clip-path', 'url(#clip14)');
  g.append('path').datum(rivm).attr('d', line).attr('fill', 'none')
    .attr('stroke', GREEN).attr('stroke-width', 2).attr('stroke-linejoin', 'round');
  g.append('path').datum(mini).attr('d', line).attr('fill', 'none')
    .attr('stroke', BLUE).attr('stroke-width', 2).attr('stroke-linejoin', 'round');

  svg.append('rect').attr('x', P.l).attr('y', P.t).attr('width', P.r - P.l).attr('height', P.b - P.t)
    .attr('fill', 'none').attr('stroke', '#444').attr('stroke-width', 2.4);

  svg.append('g').attr('transform', `translate(${P.l},0)`)
    .call(d3.axisLeft(y).tickValues(fig14YTicks).tickSize(12).tickPadding(4.5))
    .call(g => styleAxis(g, 26));
  // day boundaries
  svg.append('g').attr('transform', `translate(0,${P.b + 1.6})`)
    .call(d3.axisBottom(x).tickValues(d3.range(0, 8).map(d => toDate(base, d))).tickSize(26).tickFormat(''))
    .call(g => styleAxis(g, 26));
  // day labels at noon
  svg.append('g').attr('transform', `translate(0,${P.b})`)
    .call(d3.axisBottom(x).tickValues(fig14DayLabels.map((s, i) => toDate(base, i + 0.5)))
      .tickSize(4).tickPadding(8.6).tickFormat((d, i) => fig14DayLabels[i]))
    .call(g => styleAxis(g, 26));
  svg.append('text').attr('x', (P.l + P.r) / 2).attr('y', 1568).attr('text-anchor', 'middle')
    .attr('font-family', SANS).attr('font-size', 26).text('Date in December 2009');
  yTitle(423, 1279);
  legend(565, 1156.4, 26);
})();
</script></body></html>
